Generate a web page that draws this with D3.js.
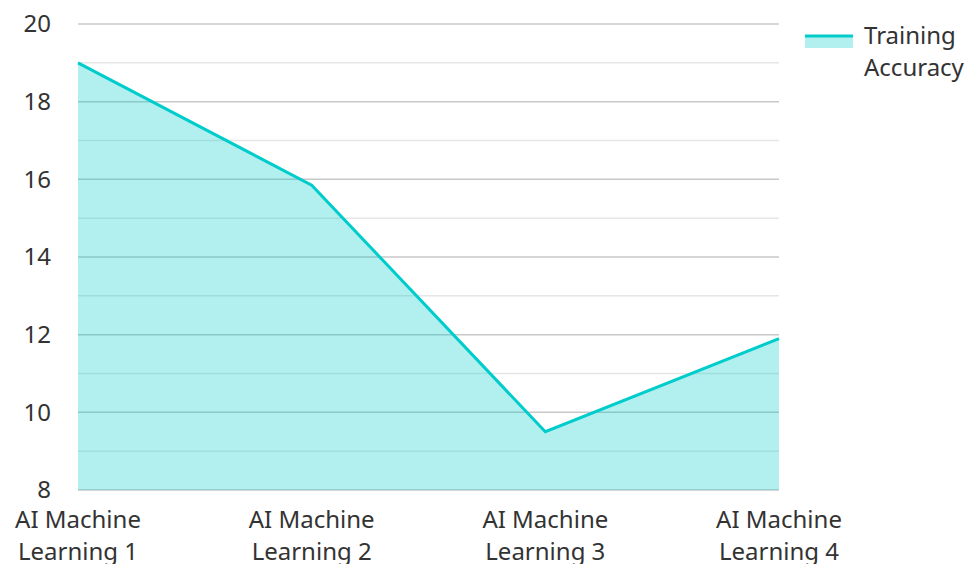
<!DOCTYPE html>
<html><head><meta charset="utf-8">
<script src="https://cdn.jsdelivr.net/npm/d3@7/dist/d3.min.js"></script>
<style>body{margin:0;background:#fff;} text{font-family:"Noto Sans","Open Sans",sans-serif;fill:#333;}</style>
</head><body>
<svg id="c" width="969" height="564"></svg>
<script>
const categories = ["AI Machine Learning 1","AI Machine Learning 2","AI Machine Learning 3","AI Machine Learning 4"];
const labelLines = [["AI Machine","Learning 1"],["AI Machine","Learning 2"],["AI Machine","Learning 3"],["AI Machine","Learning 4"]];
const trainingAccuracy = [19, 15.85, 9.5, 11.9];
const majorTicks = [8,10,12,14,16,18,20];
const minorTicks = [9,11,13,15,17,19];
const seriesName = ["Training","Accuracy"];

const svg = d3.select("#c");
const L = 78, R = 779, T = 24, B = 490;
const x = d3.scalePoint().domain(categories).range([L, R]);
const y = d3.scaleLinear().domain([8, 20]).range([B, T]);
const color = "#00cccc";

const g = svg.append("g");
g.selectAll(".minor").data(minorTicks).enter().append("line")
  .attr("x1", L).attr("x2", R).attr("y1", d => y(d)).attr("y2", d => y(d))
  .attr("stroke", "#e6e6e6").attr("stroke-width", 1.5);
g.selectAll(".major").data(majorTicks).enter().append("line")
  .attr("x1", L).attr("x2", R).attr("y1", d => y(d)).attr("y2", d => y(d))
  .attr("stroke", "#c8c8c8").attr("stroke-width", 1.5);

const data = categories.map((c, i) => ({c, v: trainingAccuracy[i]}));
g.append("path").datum(data)
  .attr("d", d3.area().x(d => x(d.c)).y0(y(8)).y1(d => y(d.v)))
  .attr("fill", color).attr("fill-opacity", 0.3);
g.append("path").datum(data)
  .attr("d", d3.line().x(d => x(d.c)).y(d => y(d.v)))
  .attr("fill", "none").attr("stroke", color).attr("stroke-width", 3);

// y labels
g.selectAll(".yl").data(majorTicks).enter().append("text")
  .attr("x", 51).attr("y", d => y(d)).attr("dy", "0.35em")
  .attr("text-anchor", "end").attr("font-size", 24).text(d => d);

// x labels
labelLines.forEach((lines, i) => {
  const t = g.append("text").attr("x", x(categories[i])).attr("y", 528)
    .attr("text-anchor", "middle").attr("font-size", 24);
  lines.forEach((ln, j) => t.append("tspan").attr("x", x(categories[i])).attr("dy", j ? 32 : 0).text(ln));
});

// legend
svg.append("rect").attr("x", 805).attr("y", 36).attr("width", 48).attr("height", 12)
  .attr("fill", color).attr("fill-opacity", 0.3);
svg.append("line").attr("x1", 805).attr("x2", 853).attr("y1", 36).attr("y2", 36)
  .attr("stroke", color).attr("stroke-width", 3);
const lt = svg.append("text").attr("x", 864).attr("y", 44).attr("font-size", 24);
seriesName.forEach((s, j) => lt.append("tspan").attr("x", 864).attr("dy", j ? 32 : 0).text(s));
</script>
</body></html>
